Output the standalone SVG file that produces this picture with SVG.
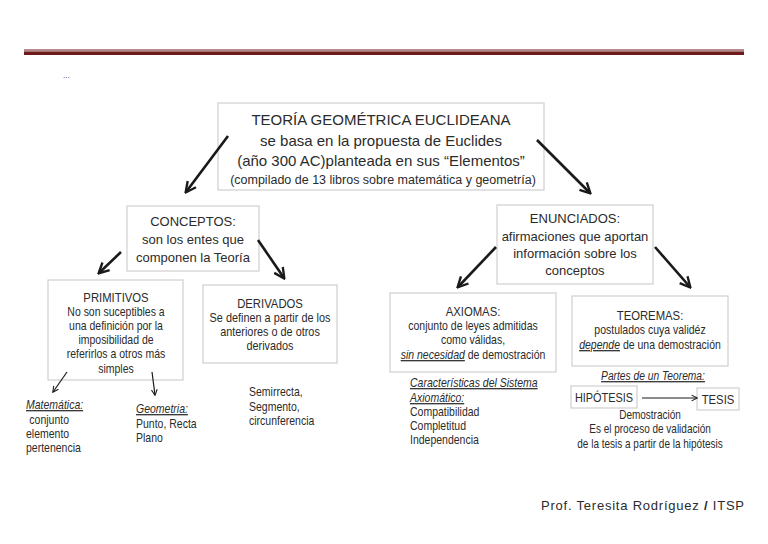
<svg xmlns="http://www.w3.org/2000/svg" width="768" height="544" viewBox="0 0 768 544">
<style>
.box{fill:#fff;stroke:#cfcfcf;stroke-width:1.2}
text{font-family:"Liberation Sans",Arial,sans-serif;fill:#2b2b2b}
.c{text-anchor:middle}
.t15{font-size:15px}
.t12{font-size:12.5px}
.t13{font-size:13px}
.iu{font-style:italic;text-decoration:underline}
.big{stroke:#1a1a1a;stroke-width:2.6;fill:none;marker-end:url(#hb)}
.thin{stroke:#1a1a1a;stroke-width:1.2;fill:none;marker-end:url(#hs)}
</style>
<defs>
<marker id="hb" viewBox="0 0 10 10" refX="8.5" refY="5" markerWidth="5" markerHeight="5" orient="auto" markerUnits="strokeWidth">
<path d="M1,1 L9,5 L1,9" fill="none" stroke="#1a1a1a" stroke-width="1.8"/>
</marker>
<marker id="hs" viewBox="0 0 10 10" refX="8.5" refY="5" markerWidth="6" markerHeight="6" orient="auto" markerUnits="strokeWidth">
<path d="M1,1 L9,5 L1,9" fill="none" stroke="#1a1a1a" stroke-width="1.5"/>
</marker>
</defs>
<rect width="768" height="544" fill="#fff"/>
<g id="header">
<rect x="24" y="49" width="720" height="2.5" fill="#b58a8a"/>
<rect x="24" y="51.5" width="720" height="3.5" fill="#6e1a1a"/>
<text x="63" y="78" font-size="8">...</text>
</g>
<g id="n-teoria">
<rect class="box" x="218" y="103" width="326" height="87"/>
<text class="c t15" x="381" y="125">TEORÍA GEOMÉTRICA EUCLIDEANA</text>
<text class="c t15" x="381" y="146">se basa en la propuesta de Euclides</text>
<text class="c t15" x="381" y="166">(año 300 AC)planteada en sus “Elementos”</text>
<text class="c t12" x="383" y="184">(compilado de 13 libros sobre matemática y geometría)</text>
</g>
<g id="n-conceptos">
<rect class="box" x="127" y="206" width="132" height="65"/>
<text class="c t13" x="193" y="226">CONCEPTOS:</text>
<text class="c t13" x="193" y="244">son los entes que</text>
<text class="c t13" x="193" y="262">componen la Teoría</text>
</g>
<g id="n-enunciados">
<rect class="box" x="497" y="205" width="156" height="79"/>
<text class="c t13" x="575" y="223">ENUNCIADOS:</text>
<text class="c t13" x="575" y="241">afirmaciones que aportan</text>
<text class="c t13" x="575" y="258">información sobre los</text>
<text class="c t13" x="575" y="275">conceptos</text>
</g>
<g id="n-primitivos">
<rect class="box" x="48" y="280" width="135" height="100"/>
<g transform="translate(116,0) scale(0.87,1)">
<text class="c t13" x="0" y="302">PRIMITIVOS</text>
</g>
<g transform="translate(116,0) scale(0.84,1)">
<text class="c t12" x="0" y="316">No son suceptibles a</text>
<text class="c t12" x="0" y="330">una definición por la</text>
<text class="c t12" x="0" y="344">imposibilidad de</text>
<text class="c t12" x="0" y="358">referirlos a otros más</text>
<text class="c t12" x="0" y="373">simples</text>
</g>
</g>
<g id="n-derivados">
<rect class="box" x="203" y="285" width="134" height="78"/>
<g transform="translate(270,0) scale(0.87,1)">
<text class="c t13" x="0" y="308">DERIVADOS</text>
</g>
<g transform="translate(270,0) scale(0.87,1)">
<text class="c t12" x="0" y="322">Se definen a partir de los</text>
<text class="c t12" x="0" y="336">anteriores o de otros</text>
<text class="c t12" x="0" y="350">derivados</text>
</g>
</g>
<g id="n-axiomas">
<rect class="box" x="390" y="293" width="166" height="79"/>
<g transform="translate(473,0) scale(0.87,1)">
<text class="c t13" x="0" y="316">AXIOMAS:</text>
</g>
<g transform="translate(473,0) scale(0.84,1)">
<text class="c t12" x="0" y="330">conjunto de leyes admitidas</text>
<text class="c t12" x="0" y="344">como válidas,</text>
<text class="c t12" x="0" y="359"><tspan class="iu">sin necesidad</tspan> de demostración</text>
</g>
</g>
<g id="n-teoremas">
<rect class="box" x="572" y="296" width="156" height="70"/>
<g transform="translate(650,0) scale(0.87,1)">
<text class="c t13" x="0" y="320">TEOREMAS:</text>
</g>
<g transform="translate(650,0) scale(0.84,1)">
<text class="c t12" x="0" y="334">postulados cuya validéz</text>
<text class="c t12" x="0" y="349"><tspan class="iu">depende</tspan> de una demostración</text>
</g>
</g>
<g id="n-matematica" transform="translate(26,0) scale(0.84,1)">
<text class="t12" x="0" y="409"><tspan class="iu">Matemática:</tspan></text>
<text class="t12" x="4" y="424">conjunto</text>
<text class="t12" x="0" y="438">elemento</text>
<text class="t12" x="0" y="452">pertenencia</text>
</g>
<g id="n-geometria" transform="translate(136,0) scale(0.84,1)">
<text class="t12" x="0" y="413"><tspan class="iu">Geometria:</tspan></text>
<text class="t12" x="0" y="428">Punto, Recta</text>
<text class="t12" x="0" y="442">Plano</text>
</g>
<g id="n-semirrecta" transform="translate(249,0) scale(0.84,1)">
<text class="t12" x="0" y="396">Semirrecta,</text>
<text class="t12" x="0" y="411">Segmento,</text>
<text class="t12" x="0" y="425">circunferencia</text>
</g>
<g id="n-caracteristicas" transform="translate(410,0) scale(0.84,1)">
<text class="t12" x="0" y="387"><tspan class="iu">Características del Sistema</tspan></text>
<text class="t12" x="0" y="402"><tspan class="iu">Axiomático:</tspan></text>
<text class="t12" x="0" y="416">Compatibilidad</text>
<text class="t12" x="0" y="430">Completitud</text>
<text class="t12" x="0" y="444">Independencia</text>
</g>
<g id="n-partes" transform="translate(653,0) scale(0.82,1)">
<text class="c t12" x="0" y="380"><tspan class="iu">Partes de un Teorema:</tspan></text>
</g>
<g id="n-hipotesis">
<rect class="box" x="571" y="386" width="66" height="22"/>
<g transform="translate(604,0) scale(0.84,1)">
<text class="c t13" x="0" y="402">HIPÓTESIS</text>
</g>
</g>
<g id="n-tesis">
<rect class="box" x="697" y="388" width="42" height="22"/>
<g transform="translate(718,0) scale(0.87,1)">
<text class="c t13" x="0" y="404">TESIS</text>
</g>
</g>
<g id="n-demostracion" transform="translate(650,0) scale(0.8,1)">
<text class="c t12" x="0" y="419">Demostración</text>
<text class="c t12" x="0" y="433">Es el proceso de validación</text>
<text class="c t12" x="0" y="448">de la tesis a partir de la hipótesis</text>
</g>
<g id="connectors">
<line class="big" x1="228" y1="136" x2="186" y2="192"/>
<line class="big" x1="537" y1="140" x2="590" y2="193"/>
<line class="big" x1="121" y1="252" x2="99" y2="273"/>
<line class="big" x1="258" y1="240" x2="284" y2="278"/>
<line class="big" x1="496" y1="247" x2="458" y2="287"/>
<line class="big" x1="655" y1="247" x2="690" y2="287"/>
<line class="thin" x1="67" y1="372" x2="53" y2="392"/>
<line class="thin" x1="152" y1="372" x2="155" y2="395"/>
<line class="thin" x1="642" y1="398" x2="697" y2="398"/>
</g>
<g id="footer">
<text x="541" y="510" font-family="'DejaVu Sans',sans-serif" font-size="13" fill="#333" textLength="203" lengthAdjust="spacing">Prof. Teresita  Rodríguez <tspan font-weight="bold">/</tspan> ITSP</text>
</g>
</svg>
